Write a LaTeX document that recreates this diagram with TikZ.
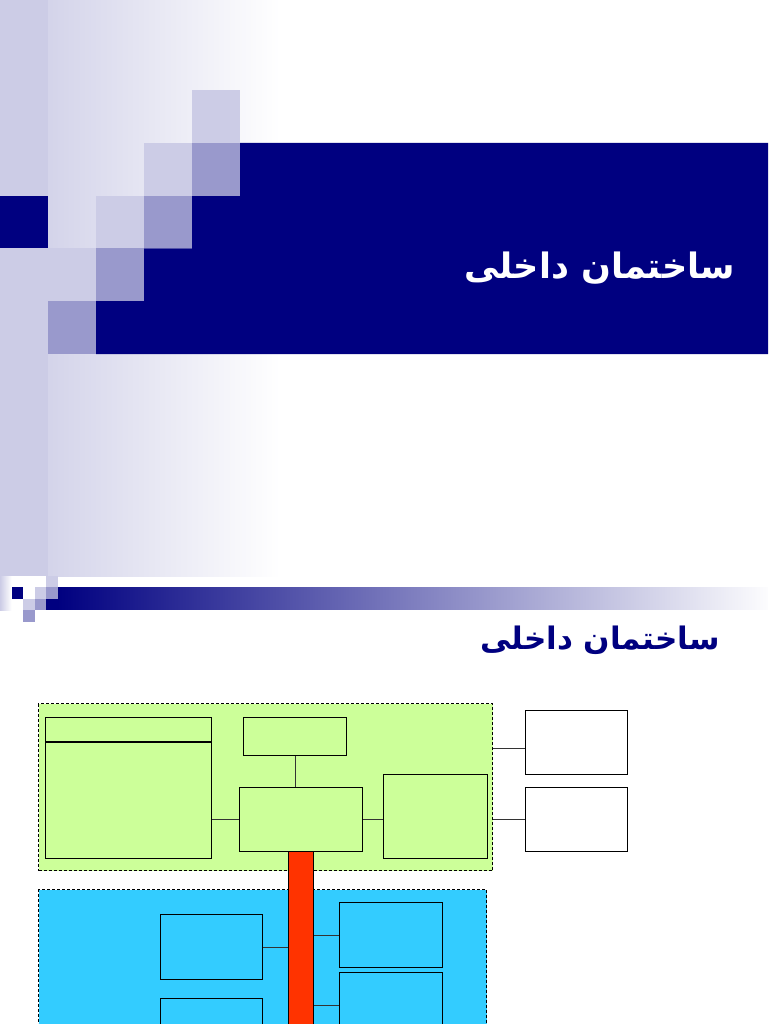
\documentclass[tikz,border=0pt]{standalone}
\usepackage{fontspec}
\usepackage{xcolor}
\usepackage{tikz}
\usetikzlibrary{positioning}
\TeXXeTstate=1
\newfontfamily\farsifont[Script=Arabic]{DejaVu Sans}
\definecolor{navy}{RGB}{0,0,128}
\definecolor{lavender}{RGB}{204,204,230}
\definecolor{midlav}{RGB}{153,153,204}
\definecolor{leaf}{RGB}{204,255,153}
\definecolor{sky}{RGB}{51,204,255}
\definecolor{busred}{RGB}{255,51,0}
\tikzset{
    zone/.style={rectangle, draw, line width=1pt, dash pattern=on 3pt off 2pt, anchor=north west, inner sep=0pt},
    unit/.style={rectangle, draw, line width=1.3pt, anchor=north west, inner sep=0pt},
    bus/.style={rectangle, draw, line width=1.3pt, fill=busred, anchor=north west, inner sep=0pt},
    link/.style={line width=1pt, black!80},
    heading/.style={anchor=east, inner sep=0pt, font=\farsifont\bfseries}
}

\begin{document}
\begin{tikzpicture}[x=1pt, y=-1pt]
    \useasboundingbox (0,0) rectangle (768,1024);
    \clip (0,0) rectangle (768,1024);
    \fill[white] (0,0) rectangle (768,1024);

    % Cover slide background
    \fill[lavender] (0,0) rectangle (48,576);
    \shade[left color=lavender!85!white, right color=white] (48,0) rectangle (280,576);

    % Cover band
    \fill[navy] (240,143) -- (768,143) -- (768,354) -- (96,354) -- (96,301.2) -- (144,301.2)
        -- (144,248.4) -- (192,248.4) -- (192,195.6) -- (240,195.6) -- cycle;
    \fill[navy] (0,195.6) rectangle ++(48,52.8);
    \foreach \i in {0,...,3} {
        \fill[lavender] (192-48*\i, 90+52.8*\i) rectangle ++(48,52.8);
        \fill[midlav] (192-48*\i, 142.8+52.8*\i) rectangle ++(48,52.8);
    }
    \node[heading, text=white, font=\farsifont\bfseries\fontsize{35}{40}\selectfont] (cover) at (735,268) {\beginR ساختمان داخلی\endR};

    % Slide header strip
    \shade[left color=lavender, right color=white] (0,576) rectangle (11.5,610);
    \shade[left color=navy, right color=white!95!lavender] (57.5,587) rectangle (768,609.5);
    \fill[navy] (11.5,587) rectangle ++(11.5,11.5);
    \fill[navy] (46,598.5) rectangle ++(11.5,11);
    \foreach \x/\y in {34.5/587, 46/575.5, 23/598.5} {
        \fill[lavender] (\x,\y) rectangle ++(11.5,11.5);
    }
    \foreach \x/\y in {46/587, 34.5/598.5, 23/610} {
        \fill[midlav] (\x,\y) rectangle ++(11.5,11.5);
    }
    \node[heading, text=navy, font=\farsifont\bfseries\fontsize{31}{36}\selectfont] (title) at (720,640) {\beginR ساختمان داخلی\endR};

    % Zones
    \node[zone, fill=leaf, minimum width=454pt, minimum height=167pt] (core) at (38,703) {};
    \node[zone, fill=sky, minimum width=448pt, minimum height=200pt] (periph) at (38,889) {};

    % Units in the upper zone
    \node[unit, minimum width=166pt, minimum height=141pt] (regs) at (45,717) {};
    \draw[line width=1.3pt] ([yshift=-25pt]regs.north west) -- ([yshift=-25pt]regs.north east);
    \node[unit, minimum width=103pt, minimum height=38pt] (ctrl) at (243,717) {};
    \node[unit, minimum width=123pt, minimum height=64pt] (alu) at (239,787) {};
    \node[unit, minimum width=104pt, minimum height=84pt] (cache) at (383,774) {};

    % Outside units
    \node[unit, fill=white, minimum width=102pt, minimum height=64pt] (out1) at (525,710) {};
    \node[unit, fill=white, minimum width=102pt, minimum height=64pt] (out2) at (525,787) {};

    % Units in the lower zone
    \node[unit, minimum width=102pt, minimum height=65pt] (dev1) at (160,914) {};
    \node[unit, minimum width=102pt, minimum height=65pt] (dev2) at (160,998) {};
    \node[unit, minimum width=103pt, minimum height=65pt] (dev3) at (339,902) {};
    \node[unit, minimum width=103pt, minimum height=66pt] (dev4) at (339,972) {};

    % Bus
    \node[bus, minimum width=25pt, minimum height=200pt] (sysbus) at (288,851) {};

    % Links
    \draw[link] (ctrl.south) -- (ctrl.south |- alu.north);
    \draw[link] (regs.east |- alu.west) -- (alu.west);
    \draw[link] (alu.east) -- (alu.east -| cache.west);
    \coordinate (tap1) at ([yshift=-6pt]out1.west);
    \draw[link] (tap1 -| core.east) -- (tap1);
    \draw[link] (out2.west -| core.east) -- (out2.west);
    \draw[link] (dev1.east) -- (dev1.east -| sysbus.west);
    \draw[link] (dev3.west -| sysbus.east) -- (dev3.west);
    \draw[link] (dev4.west -| sysbus.east) -- (dev4.west);
\end{tikzpicture}
\end{document}
